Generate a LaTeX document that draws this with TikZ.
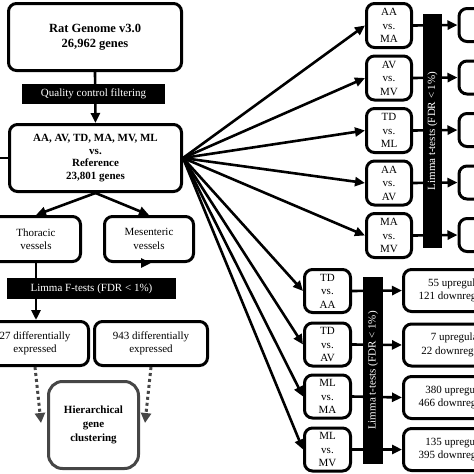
\documentclass[tikz,border=0pt]{standalone}
\usepackage{fontspec}
\setmainfont{Liberation Serif}
\usetikzlibrary{arrows.meta}
\definecolor{flowgray}{RGB}{70,70,70}

\begin{document}
\begin{tikzpicture}[x=1pt, y=-1pt,
    box/.style={draw, line width=3pt, rounded corners=8pt, align=center, inner sep=0pt, font=\fontsize{11}{13.5}\selectfont},
    bar/.style={fill=black, text=white, inner sep=0pt, font=\fontsize{11}{13}\selectfont},
    conn/.style={line width=2.6pt, -{Triangle[length=10pt,width=9pt]}},
    dotconn/.style={draw=flowgray, line width=3pt, dash pattern=on 3pt off 3pt, -{Triangle[length=10pt,width=10pt]}}]
    \useasboundingbox (0,0) rectangle (474,474);
    \clip (0,0) rectangle (474,474);

    % Genome and filtering
    \node[box, minimum width=173, minimum height=67, font=\fontsize{12.5}{15}\selectfont\bfseries] (genome) at (95,37) {Rat Genome v3.0\\26,962 genes};
    \node[box, minimum width=172, minimum height=67, font=\fontsize{11}{12.5}\selectfont\bfseries] (ref) at (95.5,158) {AA, AV, TD, MA, MV, ML\\vs.\\Reference\\23,801 genes};
    \coordinate (offleft) at (-5,158);

    % Pairwise comparisons (upper)
    \node[box, minimum width=45, minimum height=44] (aama) at (389,25.5) {AA\\vs.\\MA};
    \node[box, minimum width=45, minimum height=44] (avmv) at (389,78) {AV\\vs.\\MV};
    \node[box, minimum width=45, minimum height=44] (tdml) at (389,130.5) {TD\\vs.\\ML};
    \node[box, minimum width=45, minimum height=44] (aaav) at (389,183) {AA\\vs.\\AV};
    \node[box, minimum width=45, minimum height=44] (mamv) at (389,235.5) {MA\\vs.\\MV};

    \node[box, minimum width=118, minimum height=33] (resaama) at (518,25) {};
    \node[box, minimum width=118, minimum height=33] (resavmv) at (518,77.5) {};
    \node[box, minimum width=118, minimum height=33] (restdml) at (518,130) {};
    \node[box, minimum width=118, minimum height=33] (resaaav) at (518,182.5) {};
    \node[box, minimum width=118, minimum height=33] (resmamv) at (518,235) {};

    % Pairwise comparisons (lower)
    \node[box, minimum width=46, minimum height=43] (tdaa) at (327.5,291) {TD\\vs.\\AA};
    \node[box, minimum width=46, minimum height=43] (tdav) at (327.5,344.5) {TD\\vs.\\AV};
    \node[box, minimum width=46, minimum height=43] (mlma) at (327.5,396.5) {ML\\vs.\\MA};
    \node[box, minimum width=46, minimum height=43] (mlmv) at (327.5,449.5) {ML\\vs.\\MV};

    \node[box, minimum width=115, minimum height=42] (restdaa) at (461,290.5) {55 upregulated\\121 downregulated};
    \node[box, minimum width=115, minimum height=42] (restdav) at (461,345) {7 upregulated\\22 downregulated};
    \node[box, minimum width=115, minimum height=42] (resmlma) at (461,397.5) {380 upregulated\\466 downregulated};
    \node[box, minimum width=115, minimum height=42] (resmlmv) at (461,449.5) {135 upregulated\\395 downregulated};

    % Vessel groups
    \node[box, minimum width=89, minimum height=45] (thor) at (36,239) {Thoracic\\vessels};
    \node[box, minimum width=89, minimum height=45] (mes) at (149,239) {Mesenteric\\vessels};
    \node[box, minimum width=107, minimum height=44] (deg27) at (35,343.5) {27 differentially\\expressed};
    \node[box, minimum width=113, minimum height=44] (deg943) at (151,343.5) {943 differentially\\expressed};
    \node[box, draw=flowgray, rounded corners=14pt, minimum width=90, minimum height=87, font=\fontsize{11}{14}\selectfont\bfseries] (cluster) at (93.5,425) {Hierarchical\\gene\\clustering};
    \coordinate (clleft) at (41,423);
    \coordinate (clright) at (145,423);

    % Connectors
    \draw[conn] (genome.south) -- (ref.north);
    \draw[line width=2.6pt] (ref.west) -- (offleft);
    \draw[conn] (ref.south) -- (thor.north);
    \draw[conn] (ref.south) -- (mes.north);
    \draw[conn] (thor.south) -- (thor.south |- deg27.north);
    \draw[conn] (mes.south) -- (mes.south -| deg943.north);
    \draw[dotconn] (deg27.south) -- (clleft);
    \draw[dotconn] (deg943.south) -- (clright);

    \draw[conn] (ref.east) -- (aama.west);
    \draw[conn] (ref.east) -- (avmv.west);
    \draw[conn] (ref.east) -- (tdml.west);
    \draw[conn] (ref.east) -- (aaav.west);
    \draw[conn] (ref.east) -- (mamv.west);
    \draw[conn] (ref.east) -- (tdaa.west);
    \draw[conn] (ref.east) -- (tdav.west);
    \draw[conn] (ref.east) -- (mlma.west);
    \draw[conn] (ref.east) -- (mlmv.west);

    \draw[conn] (aama.east) -- (resaama.west);
    \draw[conn] (avmv.east) -- (resavmv.west);
    \draw[conn] (tdml.east) -- (restdml.west);
    \draw[conn] (aaav.east) -- (resaaav.west);
    \draw[conn] (mamv.east) -- (resmamv.west);
    \draw[conn] (tdaa.east) -- (restdaa.west);
    \draw[conn] (tdav.east) -- (restdav.west);
    \draw[conn] (mlma.east) -- (resmlma.west);
    \draw[conn] (mlmv.east) -- (resmlmv.west);

    % Test bars
    \node[bar, minimum width=143, minimum height=20] (qcbar) at (93.5,94) {Quality control filtering};
    \node[bar, minimum width=169, minimum height=21] (fbar) at (91.5,288.5) {Limma F-tests (FDR < 1\%)};
    \node[bar, rotate=90, minimum width=234, minimum height=19] (tbarup) at (432.5,131) {Limma t-tests (FDR < 1\%)};
    \node[bar, rotate=90, minimum width=187, minimum height=20] (tbarlow) at (373,370.5) {Limma t-tests (FDR < 1\%)};
\end{tikzpicture}
\end{document}
